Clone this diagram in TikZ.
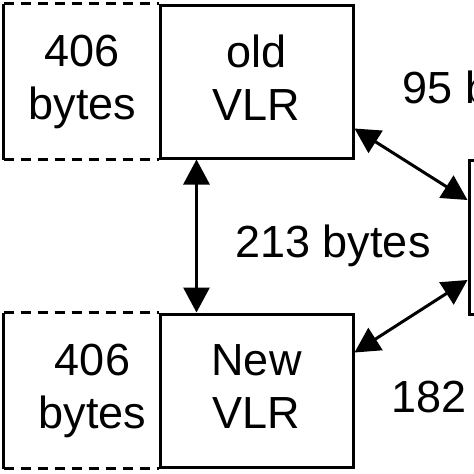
\documentclass[tikz,border=0pt]{standalone}
\usepackage{fontspec}
\setmainfont{Liberation Sans}
\usetikzlibrary{arrows.meta,calc}

\begin{document}
\begin{tikzpicture}[x=1pt, y=-1pt, line width=3pt,
		>={Triangle[length=25pt,width=26pt]},
		font=\fontsize{45}{53}\selectfont,
		vlrbox/.style={rectangle, draw, inner sep=0pt, minimum width=193pt, minimum height=153pt},
		sizebox/.style={rectangle, inner sep=0pt, minimum width=155pt, minimum height=153pt},
		dashline/.style={dash pattern=on 10pt off 7pt}]
		\useasboundingbox (0,0) rectangle (474,474);
		\clip (0,0) rectangle (474,474);
		% location registers
		\node[vlrbox] (oldvlr) at (256.5,81.5) {};
		\node[vlrbox] (newvlr) at (256.5,390.5) {};
		\node[vlrbox, minimum height=154pt] (hlr) at (565.5,237) {};
		\node[align=center] (oldname) at ([yshift=4pt]oldvlr) {old\\VLR};
		\node[align=center] (newname) at ([yshift=4pt]newvlr) {New\\VLR};
		% record sizes
		\node[sizebox] (oldsize) at (82.5,81.5) {};
		\node[sizebox] (newsize) at (82.5,390.5) {};
		\node[align=center] (oldbytes) at (oldsize) {406\\bytes};
		\node[align=center] (newbytes) at ([xshift=10pt]newsize) {406\\bytes};
		\draw (oldsize.north west) -- (oldsize.south west);
		\draw[dashline] (oldsize.north west) -- (oldvlr.north west);
		\draw[dashline] (oldsize.south west) -- (oldvlr.south west);
		\draw (newsize.north west) -- (newsize.south west);
		\draw[dashline] (newsize.north west) -- (newvlr.north west);
		\draw[dashline] (newsize.south west) -- (newvlr.south west);
		% transfers
		\draw[<->] ([xshift=38pt]oldvlr.south west) -- ([xshift=38pt]newvlr.north west);
		\draw[<->] ([yshift=31pt]oldvlr.south east) -- ([yshift=37pt]hlr.west);
		\draw[<->] ([yshift=-43pt]hlr.west) -- ([yshift=-40pt]newvlr.north east);
		\node[anchor=base] (transfer) at (333,257) {213 bytes};
		\node[anchor=base west, inner sep=0pt] (update) at (401,103) {95 b};
		\node[anchor=base west, inner sep=0pt] (ack) at (390,412) {182};
	\end{tikzpicture}
\end{document}
